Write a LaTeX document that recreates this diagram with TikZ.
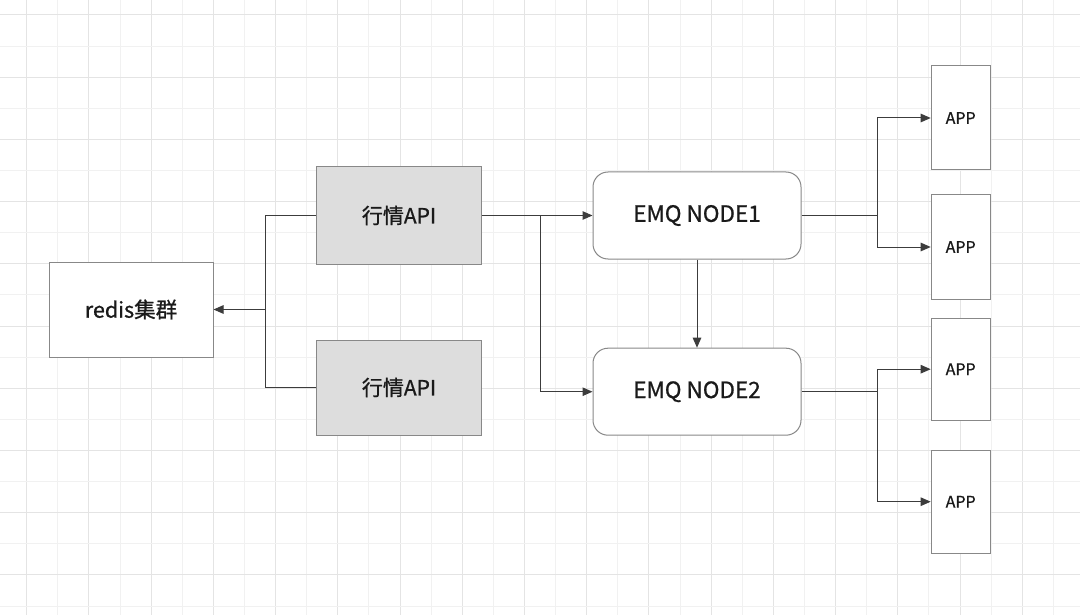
\documentclass[tikz,border=0pt]{standalone}
\usepackage{fontspec}
\setmainfont{Noto Sans CJK SC}[FakeBold=0.8]
\usetikzlibrary{arrows.meta}
\definecolor{gridmaj}{HTML}{E4E4E4}
\definecolor{gridmin}{HTML}{F1F1F1}
\definecolor{boxline}{HTML}{888888}
\definecolor{conline}{HTML}{3C3C3C}
\definecolor{apifill}{HTML}{DDDDDD}
\definecolor{txt}{HTML}{1A1A1A}
\tikzset{
  box/.style={draw=boxline, line width=1pt, inner sep=0pt, text=txt, font=\fontsize{21.5}{24}\selectfont},
  apibox/.style={box, fill=apifill, minimum width=165pt, font=\fontsize{21}{24}\selectfont},
  emqbox/.style={box, fill=white, rounded corners=15pt, minimum width=208pt, minimum height=87pt, font=\fontsize{22.5}{24}\selectfont},
  appbox/.style={box, fill=white, minimum width=59pt, font=\fontsize{16}{18}\selectfont},
  conn/.style={draw=conline, line width=1pt},
  arr/.style={conn, -{Triangle[length=10pt,width=8.5pt]}},
}
\begin{document}
\begin{tikzpicture}[x=1pt,y=-1pt]
\useasboundingbox (0,0) rectangle (1080,615);
\fill[white] (0,0) rectangle (1080,615);
% grid
\foreach \k in {0,...,33}{
  \pgfmathsetmacro{\xx}{26.7+31.11*\k}
  \pgfmathtruncatemacro{\pty}{mod(\k,2)}
  \ifnum\pty=0 \draw[gridmaj, line width=1pt] (\xx,0) -- (\xx,615);
  \else \draw[gridmin, line width=1pt] (\xx,0) -- (\xx,615); \fi
}
\foreach \k in {0,...,19}{
  \pgfmathsetmacro{\yy}{15+31.11*\k}
  \pgfmathtruncatemacro{\pty}{mod(\k,2)}
  \ifnum\pty=0 \draw[gridmaj, line width=1pt] (0,\yy) -- (1080,\yy);
  \else \draw[gridmin, line width=1pt] (0,\yy) -- (1080,\yy); \fi
}
% nodes
\node[box, fill=white, minimum width=164pt, minimum height=95pt] (redis) at (131,309.5) {redis集群};
\node[apibox, minimum height=97pt] (api1) at (399,215.5) {行情API};
\node[apibox, minimum height=95pt] (api2) at (399,387.5) {行情API};
\node[emqbox] (emq1) at (697,215.5) {EMQ NODE1};
\node[emqbox] (emq2) at (697,391.7) {EMQ NODE2};
\node[appbox, minimum height=104pt] (app1) at (960.7,118) {APP};
\node[appbox, minimum height=104pt] (app2) at (960.7,247) {APP};
\node[appbox, minimum height=102pt] (app3) at (960.7,369.2) {APP};
\node[appbox, minimum height=103pt] (app4) at (960.7,501.7) {APP};
% junctions
\coordinate (jl) at (265.7,309.5);
\coordinate (jr) at (540.7,215.5);
\coordinate (ja) at (877.7,215.5);
\coordinate (jb) at (877.7,391.7);
% connectors
\draw[conn] (api1.west) -| (jl);
\draw[conn] (api2.west) -| (jl);
\draw[arr] (jl) -- (redis.east);
\draw[arr] (api1.east) -- (emq1.west);
\draw[arr] (jr) |- (emq2.west);
\draw[arr] (emq1.south) -- (emq2.north);
\draw[conn] (emq1.east) -- (ja);
\draw[arr] (ja) |- (app1.west);
\draw[arr] (ja) |- (app2.west);
\draw[conn] (emq2.east) -- (jb);
\draw[arr] (jb) |- (app3.west);
\draw[arr] (jb) |- (app4.west);
\end{tikzpicture}
\end{document}
